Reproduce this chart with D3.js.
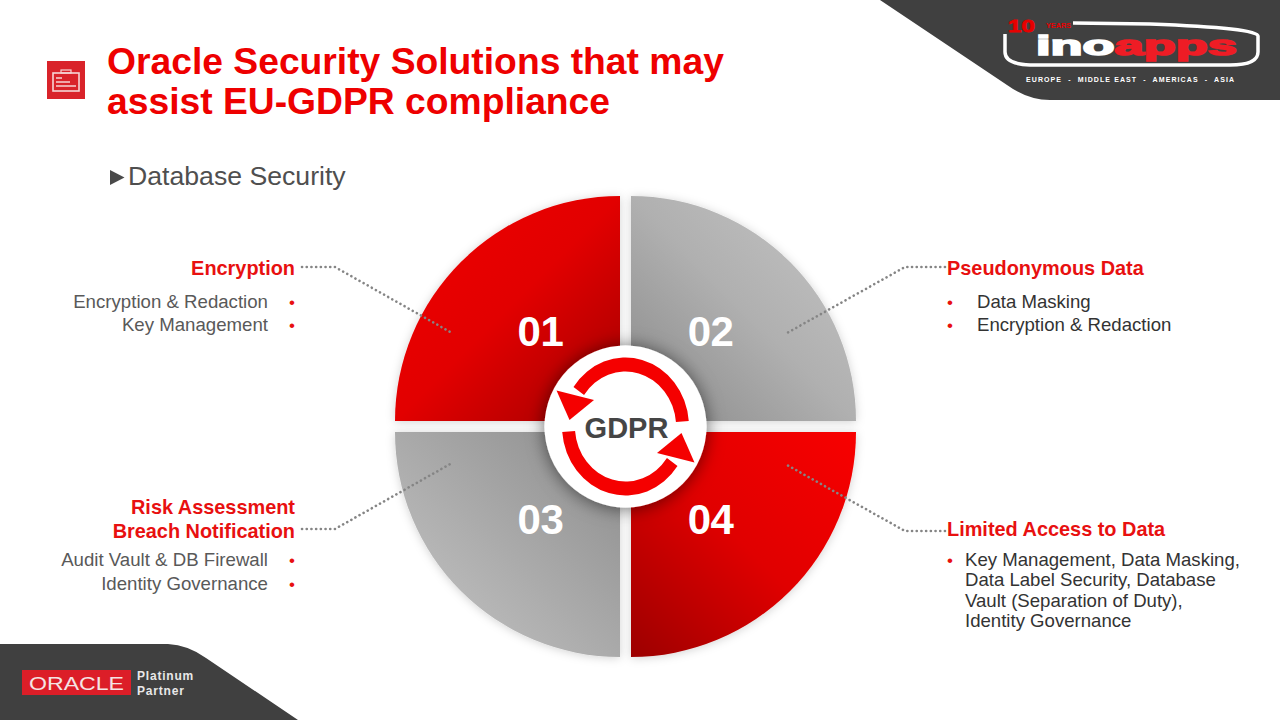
<!DOCTYPE html>
<html>
<head>
<meta charset="utf-8">
<script src="https://cdn.jsdelivr.net/npm/d3@7"></script>
<style>
  html, body { margin: 0; padding: 0; background: #fff; }
  svg { display: block; }
  text { font-family: "Liberation Sans", Arial, sans-serif; }
</style>
</head>
<body>
<div id="chart"></div>
<script>
// ----- Data -----
// clockwise from the top left quadrant
const quadrantIds = ["01", "02", "04", "03"];
const quadrantShares = [1, 1, 1, 1];
const gradientFrom = ["#f00000", "#c6c6c6", "#f80000", "#8c8c8c"];
const gradientMid = ["#e20000", "#b0b0b0", "#e00000", "#aaaaaa"];
const gradientTo = ["#a00000", "#888888", "#9c0000", "#c8c8c8"];

const titleLines = ["Oracle Security Solutions that may", "assist EU-GDPR compliance"];
const subtitle = "Database Security";

const leftHeads = [["Encryption"], ["Risk Assessment", "Breach Notification"]];
const leftItems = [["Encryption & Redaction", "Key Management"], ["Audit Vault & DB Firewall", "Identity Governance"]];
const rightHeads = ["Pseudonymous Data", "Limited Access to Data"];
const rightItems = [["Data Masking", "Encryption & Redaction"]];
const limitedLines = ["Key Management, Data Masking,", "Data Label Security, Database", "Vault (Separation of Duty),", "Identity Governance"];

// ----- Config -----
const width = 1280;
const height = 720;
const red = "#e60000";
const headRed = "#e81010";
const dark = "#404040";
const cx = 625.5;
const cy = 426.5;
const gap = 5.5;
const radius = 225;

const svg = d3.select("#chart")
  .append("svg")
  .attr("width", width)
  .attr("height", height)
  .attr("viewBox", [0, 0, width, height]);

const defs = svg.append("defs");

const addShadow = (id, std, opacity) => {
  defs.append("filter")
    .attr("id", id)
    .attr("x", "-30%").attr("y", "-30%")
    .attr("width", "160%").attr("height", "160%")
    .append("feDropShadow")
    .attr("dx", 0).attr("dy", 1)
    .attr("stdDeviation", std)
    .attr("flood-color", "#000")
    .attr("flood-opacity", opacity);
};
addShadow("soft", 5, 0.18);
addShadow("badge", 9, 0.55);

// ----- Corner banners -----
svg.append("path")
  .attr("fill", dark)
  .attr("d", "M880,0 L1007,85 Q1028,100 1050,100 L1280,100 L1280,0 Z");
svg.append("path")
  .attr("fill", dark)
  .attr("d", "M0,644 L168,644 Q188,645 206,658 L298,720 L0,720 Z");

// ----- Inoapps logo -----
const logo = svg.append("g");
logo.append("path")
  .attr("fill", "none")
  .attr("stroke", "#fff")
  .attr("stroke-width", 3.5)
  .attr("d", "M1073,23 L1150,24 Q1258,28 1258,36 L1258,52 Q1258,65 1230,65 L1030,65 Q1005,64 1005,52 L1005,34");
logo.append("text")
  .attr("x", 1008).attr("y", 32)
  .attr("font-size", 17).attr("font-weight", 700)
  .attr("stroke", red).attr("stroke-width", 0.8)
  .attr("fill", red)
  .attr("textLength", 27)
  .attr("lengthAdjust", "spacingAndGlyphs")
  .text("10");
logo.append("text")
  .attr("x", 1046).attr("y", 28)
  .attr("font-size", 8).attr("font-weight", 700)
  .attr("fill", red)
  .attr("textLength", 25)
  .attr("lengthAdjust", "spacingAndGlyphs")
  .text("YEARS");
const logoWord = logo.append("text")
  .attr("x", 1036).attr("y", 55)
  .attr("font-size", 27).attr("font-weight", 700)
  .attr("textLength", 201)
  .attr("stroke-width", 1.6)
  .attr("lengthAdjust", "spacingAndGlyphs");
logoWord.append("tspan").attr("fill", "#fff").attr("stroke", "#fff").text("ino");
logoWord.append("tspan").attr("fill", "#ee1c25").attr("stroke", "#ee1c25").text("apps");
logo.append("text")
  .attr("x", 1026).attr("y", 82)
  .attr("font-size", 7).attr("font-weight", 700)
  .attr("fill", "#fff")
  .attr("textLength", 208)
  .attr("xml:space", "preserve")
  .text("EUROPE  -  MIDDLE EAST  -  AMERICAS  -  ASIA");

// ----- Oracle badge -----
svg.append("rect")
  .attr("x", 22).attr("y", 670)
  .attr("width", 109).attr("height", 25)
  .attr("fill", "#dc1e28");
svg.append("text")
  .attr("x", 29).attr("y", 690)
  .attr("font-size", 19)
  .attr("fill", "#f4e4e4")
  .attr("textLength", 95)
  .attr("lengthAdjust", "spacingAndGlyphs")
  .text("ORACLE");
svg.append("text")
  .attr("x", 137).attr("y", 680)
  .attr("font-size", 12).attr("font-weight", 700)
  .attr("letter-spacing", 0.8)
  .attr("fill", "#e8e8e8")
  .text("Platinum");
svg.append("text")
  .attr("x", 137).attr("y", 695)
  .attr("font-size", 12).attr("font-weight", 700)
  .attr("letter-spacing", 0.8)
  .attr("fill", "#e8e8e8")
  .text("Partner");

// ----- Title block -----
const icon = svg.append("g").attr("transform", "translate(47,61)");
icon.append("rect").attr("width", 38).attr("height", 38).attr("fill", "#d9232a");
icon.append("rect")
  .attr("x", 6).attr("y", 12).attr("width", 26).attr("height", 18)
  .attr("fill", "none").attr("stroke", "#f6d5d5").attr("stroke-width", 1.6);
icon.append("rect")
  .attr("x", 14).attr("y", 9).attr("width", 10).attr("height", 3)
  .attr("fill", "none").attr("stroke", "#f6d5d5").attr("stroke-width", 1.2);
icon.selectAll("line")
  .data([[9, 15, 17], [9, 23, 21], [9, 29, 25]])
  .join("line")
  .attr("x1", d => d[0]).attr("x2", d => d[1])
  .attr("y1", d => d[2]).attr("y2", d => d[2])
  .attr("stroke", "#f6d5d5").attr("stroke-width", 1.5);

svg.selectAll("text.title")
  .data(titleLines)
  .join("text")
  .attr("class", "title")
  .attr("x", 107)
  .attr("y", (d, i) => 74 + i * 40)
  .attr("font-size", 37.25)
  .attr("font-weight", 700)
  .attr("fill", "#ee0000")
  .text(d => d);

svg.append("path")
  .attr("d", "M110,170 L124.5,177.5 L110,185 Z")
  .attr("fill", "#4a4a4a");
svg.append("text")
  .attr("x", 128).attr("y", 185)
  .attr("font-size", 26.65)
  .attr("fill", "#4f4f4f")
  .text(subtitle);

// ----- Quadrants -----
const pie = d3.pie()
  .sort(null)
  .startAngle(-Math.PI / 2)
  .endAngle(Math.PI * 1.5);

const arc = d3.arc()
  .innerRadius(0)
  .outerRadius(radius);

const arcs = pie(quadrantShares);

arcs.forEach((d, i) => {
  const mid = (d.startAngle + d.endAngle) / 2;
  const east = Math.sin(mid) > 0;
  const south = Math.cos(mid) < 0;
  const grad = defs.append("linearGradient")
    .attr("id", `quad-${quadrantIds[i]}`)
    .attr("x1", east || south ? 1 : 0).attr("x2", east || south ? 0 : 1)
    .attr("y1", 0).attr("y2", 1);
  grad.append("stop").attr("offset", "0%").attr("stop-color", gradientFrom[i]);
  grad.append("stop").attr("offset", "50%").attr("stop-color", gradientMid[i]);
  grad.append("stop").attr("offset", "100%").attr("stop-color", gradientTo[i]);
});

const quadOffset = d => {
  const mid = (d.startAngle + d.endAngle) / 2;
  return [Math.sign(Math.sin(mid)) * gap, -Math.sign(Math.cos(mid)) * gap];
};

const wheel = svg.append("g").attr("transform", `translate(${cx},${cy})`);

wheel.selectAll("path.slice")
  .data(arcs)
  .join("path")
  .attr("class", "slice")
  .attr("d", arc)
  .attr("transform", d => `translate(${quadOffset(d)})`)
  .attr("fill", (d, i) => `url(#quad-${quadrantIds[i]})`)
  .attr("filter", "url(#soft)");

wheel.selectAll("text.num")
  .data(arcs)
  .join("text")
  .attr("class", "num")
  .attr("text-anchor", "middle")
  .attr("font-size", 42)
  .attr("font-weight", 700)
  .attr("letter-spacing", -0.5)
  .attr("fill", "#fff")
  .attr("transform", d => {
    const [x, y] = arc.centroid(d);
    const [ox, oy] = quadOffset(d);
    return `translate(${x + ox},${y + oy + 14 + (y < 0 ? -9 : 8)})`;
  })
  .text((d, i) => quadrantIds[i]);

// ----- Leader lines -----
const line = d3.line();
const leaders = [
  [[302, 267], [335, 267], [452, 333]],
  [[945, 267], [905, 267], [787, 333]],
  [[302, 529], [335, 529], [452, 463]],
  [[945, 531], [905, 531], [787, 465]]
];
svg.selectAll("path.leader")
  .data(leaders)
  .join("path")
  .attr("class", "leader")
  .attr("d", line)
  .attr("fill", "none")
  .attr("stroke", "#858585")
  .attr("stroke-width", 2.6)
  .attr("stroke-linecap", "round")
  .attr("stroke-dasharray", "0.1 4.6");

// ----- Centre badge -----
wheel.append("circle")
  .attr("r", 81)
  .attr("fill", "#fff")
  .attr("filter", "url(#badge)");

const ringArc = d3.arc()
  .innerRadius(55)
  .outerRadius(69)
  .startAngle(Math.PI / 2 - 0.08)
  .endAngle(-0.96);

[0, 180].forEach(rot => {
  const g = wheel.append("g").attr("transform", `rotate(${rot})`);
  // ring is slightly narrower than tall in the reference
  g.append("path")
    .attr("d", ringArc())
    .attr("transform", "scale(0.92,1)")
    .attr("fill", "#f50000");
  g.append("path")
    .attr("d", "M-69,-36 L-31.5,-26.5 L-56,-6.5 Z")
    .attr("fill", "#f50000");
});

wheel.append("text")
  .attr("text-anchor", "middle")
  .attr("x", 1)
  .attr("y", 11)
  .attr("font-size", 29)
  .attr("font-weight", 700)
  .attr("fill", "#454545")
  .text("GDPR");

// ----- Callouts -----
const headAttrs = sel => sel
  .attr("font-size", 19.9)
  .attr("font-weight", 700)
  .attr("fill", headRed);

svg.selectAll("text.head-l")
  .data([{ t: leftHeads[0][0], y: 275 }, { t: leftHeads[1][0], y: 514 }, { t: leftHeads[1][1], y: 538 }])
  .join("text")
  .attr("class", "head-l")
  .attr("x", 295)
  .attr("y", d => d.y)
  .attr("text-anchor", "end")
  .call(headAttrs)
  .text(d => d.t);

const leftRows = [
  { t: leftItems[0][0], y: 308 }, { t: leftItems[0][1], y: 331 },
  { t: leftItems[1][0], y: 566 }, { t: leftItems[1][1], y: 590 }
];
svg.selectAll("text.item-l")
  .data(leftRows)
  .join("text")
  .attr("class", "item-l")
  .attr("x", 268)
  .attr("y", d => d.y)
  .attr("text-anchor", "end")
  .attr("font-size", 18.65)
  .attr("fill", "#595959")
  .text(d => d.t);
svg.selectAll("text.bul-l")
  .data(leftRows)
  .join("text")
  .attr("class", "bul-l")
  .attr("x", 292)
  .attr("y", d => d.y)
  .attr("text-anchor", "middle")
  .attr("font-size", 17)
  .attr("fill", headRed)
  .text("\u2022");

svg.selectAll("text.head-r")
  .data([{ t: rightHeads[0], y: 275 }, { t: rightHeads[1], y: 536 }])
  .join("text")
  .attr("class", "head-r")
  .attr("x", 947)
  .attr("y", d => d.y)
  .call(headAttrs)
  .text(d => d.t);

const rightRows = [
  { t: rightItems[0][0], y: 308 }, { t: rightItems[0][1], y: 331 }
];
svg.selectAll("text.item-r")
  .data(rightRows)
  .join("text")
  .attr("class", "item-r")
  .attr("x", 977)
  .attr("y", d => d.y)
  .attr("font-size", 18.6)
  .attr("fill", "#333")
  .text(d => d.t);

svg.selectAll("text.limited")
  .data(limitedLines)
  .join("text")
  .attr("class", "limited")
  .attr("x", 965)
  .attr("y", (d, i) => 566 + i * 20.3)
  .attr("font-size", 18.6)
  .attr("fill", "#333")
  .text(d => d);

svg.selectAll("text.bul-r")
  .data([308, 331, 566])
  .join("text")
  .attr("class", "bul-r")
  .attr("x", 950)
  .attr("y", d => d)
  .attr("text-anchor", "middle")
  .attr("font-size", 17)
  .attr("fill", headRed)
  .text("\u2022");
</script>
</body>
</html>
